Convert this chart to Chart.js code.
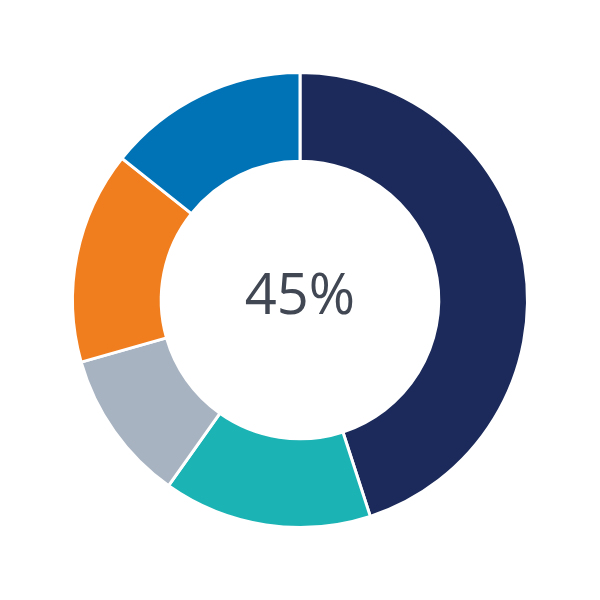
<!DOCTYPE html>
<html>
<head>
<meta charset="utf-8">
<script src="https://cdn.jsdelivr.net/npm/chart.js@4"></script>
<style>
  html, body { margin: 0; padding: 0; background: #ffffff; font-family: "Open Sans", sans-serif; }
  #wrap { width: 600px; height: 600px; }
</style>
</head>
<body>
<div id="wrap"><canvas id="donut" width="600" height="600"></canvas></div>
<script>
// ---------- DATA ----------
const segments = ["Segment A", "Segment B", "Segment C", "Segment D", "Segment E"];
const shares = [45, 14.8, 10.8, 15.1, 14.3];
const colors = ["#1b2a5a", "#1cb3b5", "#a8b3c1", "#f07e1f", "#0073b6"];
const centerLabel = "45%";
const CENTER_FONT = "400 56px 'Open Sans'";

// ---------- CENTER TEXT ----------
const centerText = {
  id: "centerText",
  afterDraw(chart) {
    const ctx = chart.ctx;
    const meta = chart.getDatasetMeta(0).data[0];
    ctx.save();
    ctx.font = CENTER_FONT;
    ctx.fillStyle = "#414854";
    ctx.textAlign = "center";
    ctx.textBaseline = "middle";
    ctx.fillText(centerLabel, meta.x, meta.y - 2);
    ctx.restore();
  },
};

// ---------- CHART ----------
function drawChart() {
  new Chart(document.getElementById("donut").getContext("2d"), {
    type: "doughnut",
    data: {
      labels: segments,
      datasets: [
        {
          data: shares,
          backgroundColor: colors,
          borderColor: "#ffffff",
          borderWidth: 3,
        },
      ],
    },
    options: {
      responsive: false,
      animation: false,
      cutout: "61%",
      layout: { padding: 71 },
      plugins: {
        legend: { display: false },
        tooltip: { enabled: false },
      },
    },
    plugins: [centerText],
  });
}

document.fonts.load(CENTER_FONT, centerLabel).then(drawChart, drawChart);
</script>
</body>
</html>
